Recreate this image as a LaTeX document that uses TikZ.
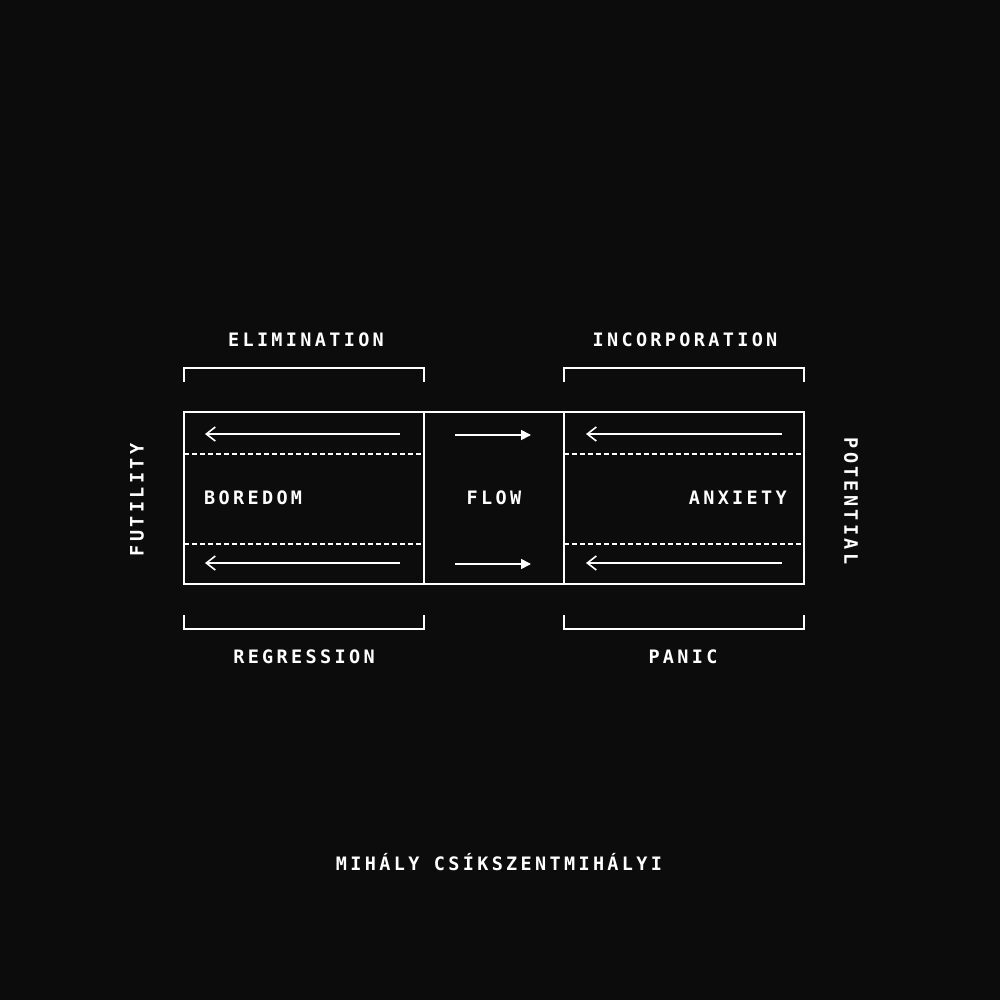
\documentclass[tikz,border=0pt]{standalone}
\usepackage{fontspec}
\newfontfamily\lab[LetterSpace=18]{DejaVu Sans Mono Bold}
\usetikzlibrary{arrows.meta}
\definecolor{bg}{HTML}{0C0C0C}
\tikzset{
  ln/.style={draw=white, line width=1.6pt},
  dsh/.style={draw=white, line width=1.4pt, dash pattern=on 5pt off 3pt},
  openarr/.style={draw=white, line width=1.6pt, -{Straight Barb[length=9pt,width=14pt,line width=1.6pt]}},
  fillarr/.style={draw=white, line width=1.6pt, -{Triangle[length=10pt,width=10pt]}},
  txt/.style={text=white, font=\lab\fontsize{18.5}{18.5}\selectfont, inner sep=0pt}
}
\begin{document}
\begin{tikzpicture}[x=1pt,y=-1pt]
\fill[bg] (0,0) rectangle (1000,1000);
\useasboundingbox (0,0) rectangle (1000,1000);
\draw[ln] (184,412) rectangle (804,584);
\draw[ln] (424,412) -- (424,584);
\draw[ln] (564,412) -- (564,584);
\draw[dsh] (184,454) -- (424,454);
\draw[dsh] (184,544) -- (424,544);
\draw[dsh] (564,454) -- (804,454);
\draw[dsh] (564,544) -- (804,544);
\coordinate (a1) at (400,434); \coordinate (a1e) at (205,434);
\coordinate (a2) at (400,563); \coordinate (a2e) at (205,563);
\coordinate (b1) at (782,434); \coordinate (b1e) at (586,434);
\coordinate (b2) at (782,563); \coordinate (b2e) at (586,563);
\coordinate (c1) at (455,435); \coordinate (c1e) at (531,435);
\coordinate (c2) at (455,564); \coordinate (c2e) at (531,564);
\draw[openarr] (a1) -- (a1e);
\draw[openarr] (a2) -- (a2e);
\draw[openarr] (b1) -- (b1e);
\draw[openarr] (b2) -- (b2e);
\draw[fillarr] (c1) -- (c1e);
\draw[fillarr] (c2) -- (c2e);
\draw[ln] (184,382) -- (184,368) -- (424,368) -- (424,382);
\draw[ln] (564,382) -- (564,368) -- (804,368) -- (804,382);
\draw[ln] (184,615) -- (184,629) -- (424,629) -- (424,615);
\draw[ln] (564,615) -- (564,629) -- (804,629) -- (804,615);
\node[txt] (elim) at (306,340) {ELIMINATION};
\node[txt] (inc) at (685,340) {INCORPORATION};
\node[txt] (reg) at (304,657) {REGRESSION};
\node[txt] (pan) at (683,657) {PANIC};
\node[txt,anchor=west] (bor) at (204,498) {BOREDOM};
\node[txt] (flow) at (494,498) {FLOW};
\node[txt,anchor=east] (anx) at (787,498) {ANXIETY};
\node[txt,rotate=90] (fut) at (137,500) {FUTILITY};
\node[txt,rotate=-90] (pot) at (851,501) {POTENTIAL};
\node[txt] (name) at (499,862) {MIHÁLY CSÍKSZENTMIHÁLYI};
\end{tikzpicture}
\end{document}
